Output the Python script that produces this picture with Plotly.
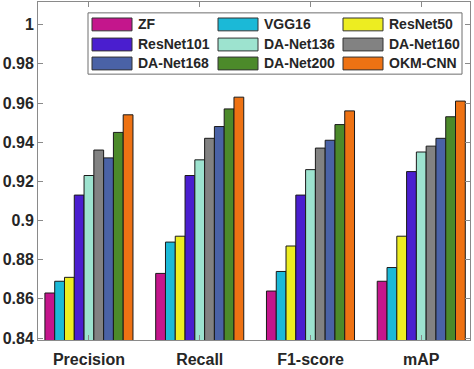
import plotly.graph_objects as go

categories = ["Precision", "Recall", "F1-score", "mAP"]
series_names = ["ZF", "VGG16", "ResNet50", "ResNet101", "DA-Net136",
                "DA-Net160", "DA-Net168", "DA-Net200", "OKM-CNN"]
zf = [0.863, 0.873, 0.864, 0.869]
vgg16 = [0.869, 0.889, 0.874, 0.876]
resnet50 = [0.871, 0.892, 0.887, 0.892]
resnet101 = [0.913, 0.923, 0.913, 0.925]
danet136 = [0.923, 0.931, 0.926, 0.935]
danet160 = [0.936, 0.942, 0.937, 0.938]
danet168 = [0.932, 0.948, 0.941, 0.942]
danet200 = [0.945, 0.957, 0.949, 0.953]
okmcnn = [0.954, 0.963, 0.956, 0.961]
y_tickvals = [0.84, 0.86, 0.88, 0.90, 0.92, 0.94, 0.96, 0.98, 1.0]
y_ticktext = ["0.84", "0.86", "0.88", "0.9", "0.92", "0.94", "0.96", "0.98", "1"]

series_values = [zf, vgg16, resnet50, resnet101, danet136,
                 danet160, danet168, danet200, okmcnn]
colors = ["#C4168C", "#1BB9D7", "#EDED21", "#4A1ECF", "#9DE3CF",
          "#828282", "#4A62A6", "#4C8A2A", "#EE7213"]

W, H = 474, 369
L, R, T, B = 38, 4, 1, 26
pw, ph = W - L - R, H - T - B

def px(x):
    return (x - L) / pw

def py(y):
    return 1 - (y - T) / ph

fig = go.Figure()
for name, vals, c in zip(series_names, series_values, colors):
    fig.add_trace(go.Bar(x=categories, y=vals, name=name, marker_color=c,
                         marker_line=dict(color="#1a1a1a", width=1)))

font_family = "Liberation Sans, Arial, sans-serif"
axis_color = "#8a8a8a"

fig.update_layout(
    width=W, height=H,
    margin=dict(l=L, r=R, t=T, b=B),
    plot_bgcolor="white", paper_bgcolor="white",
    barmode="group", bargap=0.205, bargroupgap=0,
    showlegend=False,
    font=dict(family=font_family, color="#262626"),
)
fig.update_xaxes(
    range=[-0.46, 3.44], showline=True, linecolor=axis_color, linewidth=1,
    mirror="ticks", ticks="inside", ticklen=5, tickcolor=axis_color,
    showgrid=False, ticklabelstandoff=5,
    tickfont=dict(size=16, weight="bold", color="#262626"),
)
fig.update_yaxes(
    range=[0.839, 1.0116], tickvals=y_tickvals, ticktext=y_ticktext,
    showline=True, linecolor=axis_color, linewidth=1,
    mirror="ticks", ticks="inside", ticklen=5, tickcolor=axis_color,
    showgrid=False, zeroline=False,
    tickfont=dict(size=16, weight="bold", color="#262626"),
)

# Legend (3 columns, wide swatches)
box = dict(x0=88, x1=462, y0=12, y1=74)
fig.add_shape(type="rect", xref="paper", yref="paper",
              x0=px(box["x0"]), x1=px(box["x1"]), y0=py(box["y1"]), y1=py(box["y0"]),
              line=dict(color="#6e6e6e", width=1), fillcolor="white", layer="above")
col_x = [92, 218, 343]
row_y = [23.7, 44.0, 63.2]
for i, (name, c) in enumerate(zip(series_names, colors)):
    r, k = divmod(i, 3)
    x0 = col_x[k]
    yc = row_y[r]
    fig.add_shape(type="rect", xref="paper", yref="paper",
                  x0=px(x0), x1=px(x0 + 40), y0=py(yc + 6.5), y1=py(yc - 6.5),
                  line=dict(color="#333333", width=1), fillcolor=c, layer="above")
    fig.add_annotation(xref="paper", yref="paper", x=px(x0 + 44), y=py(yc),
                       xanchor="left", yanchor="middle", text=name, showarrow=False,
                       font=dict(size=14, weight="bold", color="#262626", family=font_family))

fig.write_html("out.html", config={"displayModeBar": False},
               post_script="document.body.style.margin='0';document.body.style.overflow='hidden';")
